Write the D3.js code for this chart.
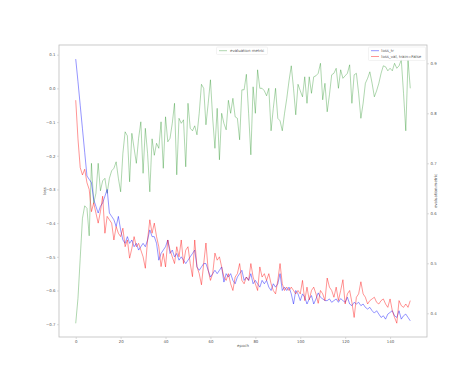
<!DOCTYPE html>
<html><head><meta charset="utf-8">
<script src="https://cdn.jsdelivr.net/npm/d3@7"></script>
<style>body{margin:0;background:#fff}svg{display:block;font-family:"DejaVu Sans",sans-serif}</style>
</head><body>
<svg id="c" width="474" height="379"></svg>
<script>
const lossTr = [0.087,0.02,-0.05,-0.12,-0.19,-0.26,-0.27,-0.28,-0.33,-0.35,
-0.37,-0.35,-0.34,-0.32,-0.30,-0.37,-0.38,-0.39,-0.41,-0.38,
-0.42,-0.45,-0.46,-0.44,-0.46,-0.45,-0.47,-0.46,-0.48,-0.47,
-0.46,-0.47,-0.45,-0.42,-0.44,-0.44,-0.46,-0.51,-0.49,-0.48,
-0.47,-0.45,-0.49,-0.48,-0.50,-0.49,-0.51,-0.50,-0.51,-0.52,
-0.51,-0.50,-0.49,-0.48,-0.53,-0.54,-0.53,-0.52,-0.52,-0.54,
-0.56,-0.55,-0.54,-0.55,-0.54,-0.53,-0.575,-0.55,-0.56,-0.55,
-0.57,-0.58,-0.56,-0.55,-0.54,-0.57,-0.56,-0.57,-0.55,-0.58,
-0.57,-0.58,-0.59,-0.57,-0.58,-0.57,-0.59,-0.60,-0.58,-0.59,
-0.58,-0.55,-0.60,-0.59,-0.60,-0.59,-0.61,-0.64,-0.60,-0.61,
-0.63,-0.61,-0.62,-0.64,-0.625,-0.615,-0.64,-0.625,-0.607,-0.62,
-0.625,-0.63,-0.63,-0.625,-0.635,-0.63,-0.625,-0.635,-0.624,-0.63,
-0.635,-0.62,-0.64,-0.645,-0.635,-0.64,-0.635,-0.645,-0.64,-0.65,
-0.655,-0.65,-0.66,-0.667,-0.66,-0.67,-0.68,-0.675,-0.685,-0.67,
-0.665,-0.66,-0.675,-0.68,-0.66,-0.685,-0.675,-0.67,-0.68,-0.69];
const lossVal = [-0.035,-0.15,-0.235,-0.257,-0.24,-0.28,-0.30,-0.366,-0.34,-0.37,
-0.40,-0.366,-0.32,-0.43,-0.38,-0.39,-0.40,-0.45,-0.41,-0.43,
-0.44,-0.415,-0.47,-0.45,-0.504,-0.475,-0.44,-0.47,-0.46,-0.48,
-0.50,-0.534,-0.45,-0.39,-0.43,-0.40,-0.44,-0.47,-0.529,-0.49,
-0.53,-0.45,-0.48,-0.50,-0.52,-0.47,-0.50,-0.45,-0.52,-0.48,
-0.47,-0.52,-0.559,-0.45,-0.53,-0.55,-0.583,-0.52,-0.459,-0.54,
-0.57,-0.55,-0.489,-0.51,-0.50,-0.53,-0.56,-0.57,-0.55,-0.58,
-0.60,-0.56,-0.55,-0.52,-0.57,-0.58,-0.56,-0.57,-0.52,-0.56,
-0.58,-0.60,-0.53,-0.56,-0.55,-0.57,-0.55,-0.58,-0.60,-0.61,
-0.57,-0.52,-0.58,-0.60,-0.59,-0.60,-0.59,-0.60,-0.61,-0.60,
-0.61,-0.57,-0.63,-0.59,-0.628,-0.60,-0.59,-0.61,-0.638,-0.60,
-0.61,-0.63,-0.563,-0.59,-0.60,-0.62,-0.59,-0.63,-0.60,-0.568,
-0.64,-0.61,-0.60,-0.635,-0.68,-0.62,-0.61,-0.574,-0.61,-0.62,
-0.64,-0.63,-0.625,-0.62,-0.635,-0.64,-0.63,-0.625,-0.64,-0.65,
-0.625,-0.66,-0.68,-0.697,-0.63,-0.645,-0.65,-0.64,-0.65,-0.63];
const evalMetric = [0.38,0.43,0.51,0.59,0.615,0.61,0.555,0.70,0.62,0.64,
0.70,0.645,0.665,0.67,0.64,0.67,0.685,0.69,0.703,0.67,
0.643,0.72,0.763,0.755,0.663,0.76,0.73,0.70,0.75,0.783,
0.68,0.77,0.72,0.643,0.749,0.716,0.74,0.73,0.783,0.69,
0.793,0.743,0.75,0.78,0.82,0.677,0.79,0.78,0.787,0.693,
0.82,0.77,0.765,0.775,0.757,0.80,0.858,0.85,0.777,0.82,
0.867,0.79,0.73,0.81,0.707,0.80,0.78,0.767,0.826,0.80,
0.83,0.793,0.79,0.747,0.847,0.847,0.878,0.80,0.717,0.853,
0.80,0.887,0.85,0.85,0.845,0.835,0.85,0.765,0.81,0.85,
0.79,0.785,0.765,0.80,0.83,0.865,0.895,0.85,0.797,0.858,
0.845,0.833,0.873,0.82,0.873,0.84,0.873,0.875,0.88,0.90,
0.827,0.86,0.803,0.837,0.877,0.88,0.89,0.85,0.887,0.87,
0.875,0.88,0.897,0.82,0.877,0.88,0.84,0.79,0.82,0.86,
0.87,0.883,0.86,0.833,0.845,0.86,0.88,0.895,0.893,0.885,
0.89,0.885,0.90,0.89,0.895,0.907,0.84,0.765,0.907,0.85];
const epochs = d3.range(lossTr.length);
const xTicks = [0,20,40,60,80,100,120,140];
const yLeftTicks = [0.1,0.0,-0.1,-0.2,-0.3,-0.4,-0.5,-0.6,-0.7];
const yRightTicks = [0.4,0.5,0.6,0.7,0.8,0.9];

const L=59,R=427,T=45,B=337;
const svg=d3.select("#c");
const x=d3.scaleLinear().domain([-7.45,156.45]).range([L,R]);
const yL=d3.scaleLinear().domain([-0.738,0.1288]).range([B,T]);
const yR=d3.scaleLinear().domain([0.3526,0.9366]).range([B,T]);
const fmt=v=>(v<0?"\u2212":"")+Math.abs(v).toFixed(1);
const tc="#555", fs=3.9;

const lineG=(ys,sc)=>d3.line().x((d,i)=>x(epochs[i])).y(d=>sc(d))(ys);
svg.append("path").attr("d",lineG(evalMetric,yR)).attr("fill","none").attr("stroke","#008000").attr("stroke-opacity",0.45).attr("stroke-width",0.7);
svg.append("path").attr("d",lineG(lossTr,yL)).attr("fill","none").attr("stroke","#0000ff").attr("stroke-opacity",0.6).attr("stroke-width",0.7);
svg.append("path").attr("d",lineG(lossVal,yL)).attr("fill","none").attr("stroke","#ff0000").attr("stroke-opacity",0.6).attr("stroke-width",0.7);

// frame
svg.append("rect").attr("x",L).attr("y",T).attr("width",R-L).attr("height",B-T).attr("fill","none").attr("stroke","#bdbdbd").attr("stroke-width",0.8);

// axes
const ax=d3.axisBottom(x).tickValues(xTicks).tickSize(2).tickPadding(1.5).tickFormat(d3.format("d"));
const gx=svg.append("g").attr("transform",`translate(0,${B})`).call(ax);
const al=d3.axisLeft(yL).tickValues(yLeftTicks).tickSize(2).tickPadding(1.5).tickFormat(fmt);
const gl=svg.append("g").attr("transform",`translate(${L},0)`).call(al);
const ar=d3.axisRight(yR).tickValues(yRightTicks).tickSize(2).tickPadding(1.5).tickFormat(d=>d.toFixed(1));
const gr=svg.append("g").attr("transform",`translate(${R},0)`).call(ar);
[gx,gl,gr].forEach(g=>{g.select(".domain").remove();g.selectAll("line").attr("stroke","#c4c4c4").attr("stroke-width",0.6);
 g.selectAll("text").attr("font-size",fs).attr("fill",tc).attr("font-family","DejaVu Sans");});

svg.append("text").attr("x",243).attr("y",346.5).attr("text-anchor","middle").attr("font-size",fs).attr("fill",tc).text("epoch");
svg.append("text").attr("transform",`translate(46,191) rotate(-90)`).attr("text-anchor","middle").attr("font-size",fs).attr("fill",tc).text("loss");
svg.append("text").attr("transform",`translate(437,191) rotate(-90)`).attr("text-anchor","middle").attr("font-size",fs).attr("fill",tc).text("evaluation metric");

// legends
const lg1=svg.append("g");
lg1.append("rect").attr("x",216.5).attr("y",47).attr("width",51).attr("height",7.5).attr("rx",1).attr("fill","#fff").attr("fill-opacity",0.8).attr("stroke","#e6e6e6").attr("stroke-width",0.5);
lg1.append("line").attr("x1",219).attr("x2",227).attr("y1",50.7).attr("y2",50.7).attr("stroke","#008000").attr("stroke-opacity",0.45).attr("stroke-width",0.7);
lg1.append("text").attr("x",230).attr("y",52.1).attr("font-size",fs).attr("fill",tc).text("evaluation metric");

const lg2=svg.append("g");
lg2.append("rect").attr("x",368.5).attr("y",47).attr("width",57).attr("height",13.5).attr("rx",1).attr("fill","#fff").attr("fill-opacity",0.8).attr("stroke","#e6e6e6").attr("stroke-width",0.5);
lg2.append("line").attr("x1",371).attr("x2",379).attr("y1",50.7).attr("y2",50.7).attr("stroke","#0000ff").attr("stroke-opacity",0.6).attr("stroke-width",0.7);
lg2.append("text").attr("x",381.3).attr("y",52.1).attr("font-size",fs).attr("fill",tc).text("loss_tr");
lg2.append("line").attr("x1",371).attr("x2",379).attr("y1",56.5).attr("y2",56.5).attr("stroke","#ff0000").attr("stroke-opacity",0.6).attr("stroke-width",0.7);
lg2.append("text").attr("x",381.3).attr("y",57.9).attr("font-size",fs).attr("fill",tc).text("loss_val, train=False");
</script>
</body></html>
